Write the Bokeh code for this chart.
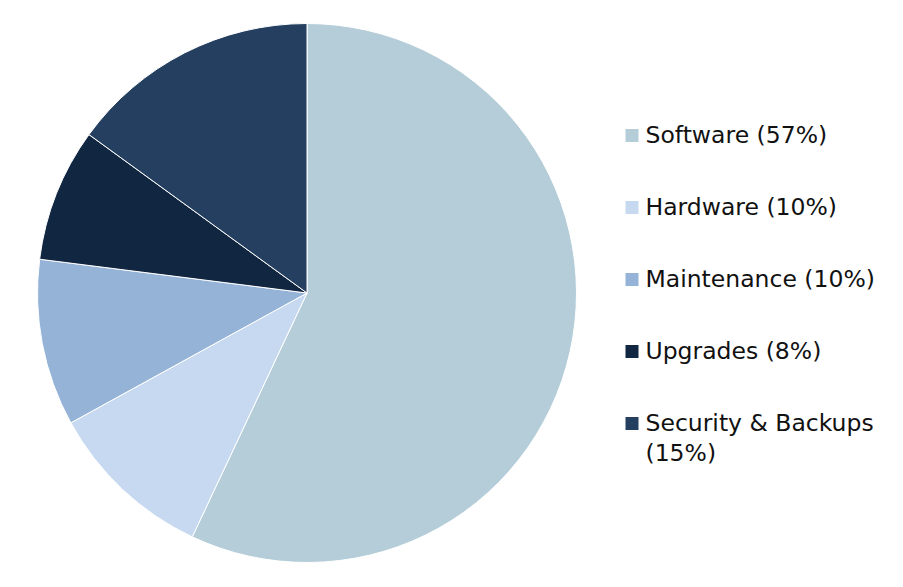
from math import pi

from bokeh.core.properties import value
from bokeh.embed import file_html
from bokeh.models import ColumnDataSource, Range1d
from bokeh.plotting import figure
from bokeh.resources import INLINE

categories = ["Software", "Hardware", "Maintenance", "Upgrades", "Security & Backups"]
shares = [57, 10, 10, 8, 15]
colors = ["#B4CDD8", "#C6D9F0", "#95B3D7", "#112641", "#243F60"]
legend_labels = [
    "Software (57%)",
    "Hardware (10%)",
    "Maintenance (10%)",
    "Upgrades (8%)",
    "Security & Backups\n(15%)",
]

W, H = 887, 571
IMG_H = 587

# work in screenshot pixel coords (y flipped so it grows upward)
p = figure(
    width=W, height=H,
    x_range=Range1d(0, W), y_range=Range1d(IMG_H - H, IMG_H),
    output_backend="svg", toolbar_location=None,
    min_border=0, outline_line_color=None,
)
p.axis.visible = False
p.grid.visible = False

cx, cy, r = 306.5, IMG_H - 292.5, 269.5

total = sum(shares)
starts, ends = [], []
acc = 0.0
for s in shares:
    # clockwise from 12 o'clock
    a0 = pi / 2 - 2 * pi * acc / total
    acc += s
    a1 = pi / 2 - 2 * pi * acc / total
    starts.append(a1)
    ends.append(a0)

src = ColumnDataSource(dict(cat=categories, share=shares, color=colors,
                            start=starts, end=ends))
p.wedge(x=cx, y=cy, radius=r, start_angle="start", end_angle="end",
        direction="anticlock", fill_color="color", line_color="white",
        line_width=1, source=src)

# legend on the right
row0, step = 135, 72
ly = [IMG_H - (row0 + i * step) for i in range(len(categories))]
leg = ColumnDataSource(dict(
    x=[631.5] * len(categories), y=ly, color=colors, label=legend_labels,
    ty=[v + 15 for v in ly],
))
p.rect(x="x", y="y", width=13, height=13, fill_color="color",
       line_color=None, source=leg)
p.text(x=645, y="ty", text="label", source=leg,
       text_font=value("DejaVu Sans"), text_font_size="23.5px",
       text_color="#111111", text_baseline="top", text_align="left",
       text_line_height=1.1)

open("out.html", "w").write(file_html(p, INLINE))
